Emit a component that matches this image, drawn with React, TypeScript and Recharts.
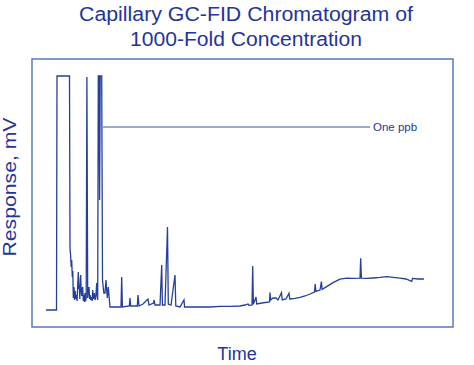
import React from 'react';
import { LineChart, Line, XAxis, YAxis, ReferenceArea, ReferenceLine, Customized } from 'recharts';

// retention time, min
const times = [
  1.4, 2.45, 2.5, 3.75, 3.8, 3.86, 3.92, 3.97, 4.03, 4.08, 4.13, 4.2, 4.26, 4.32, 4.38, 4.45, 4.51, 4.58, 4.63,
  4.68, 4.73, 4.78, 4.83, 4.87, 4.92, 4.97, 5.02, 5.07, 5.13, 5.2, 5.26, 5.3, 5.36, 5.42, 5.49, 5.57, 5.63, 5.7,
  5.76, 5.82, 5.87, 5.95, 6.02, 6.07, 6.13, 6.23, 6.3, 6.38, 6.47, 6.52, 6.57, 6.63, 6.7, 6.76, 6.82, 6.97,
  7.05, 7.18, 7.3, 7.4, 7.53, 7.63, 7.8, 8.3, 8.9,
  8.97, 9.04, 9.73, 9.8, 9.87, 10.53, 10.6, 10.7, 11.1, 11.6, 11.7, 12.15, 12.2, 12.3, 12.8, 12.97, 13.04, 13.3,
  13.55, 13.63, 13.9, 14.3, 14.38, 14.8, 15.2, 15.26, 15.8, 16.8, 17.8, 18.8, 19.8, 20.8, 21.3, 21.6, 21.68, 22.0,
  22.07, 22.14, 22.4, 22.47, 23.0, 23.75, 23.8, 23.87, 24.1, 24.4, 24.6, 24.95, 25.02, 25.4, 25.7, 25.77, 26.3,
  26.8, 27.3, 27.8, 28.25, 28.32, 28.39, 28.8, 28.94, 29.01, 29.47, 30.1, 30.8, 31.47, 32.1, 32.8, 32.87, 32.94,
  33.5, 34.1, 34.8, 35.47, 36.1, 36.8, 37.4, 37.97, 38.05, 38.6, 39.2,
];

// detector response, mV (solvent and first peaks run off scale)
const response = [
  8.5, 8.5, 125.5, 125.5, 39.5, 36, 30, 33.5, 25, 28, 14.5, 20, 13.5, 18, 14, 16, 13, 22, 27.5,
  19, 21, 14, 24, 26, 18, 15.5, 19, 20, 13, 16, 12.5, 17, 13, 14.5, 125, 14.5, 18, 20,
  14, 16, 13.5, 15, 13, 18.5, 14, 17, 13.5, 15, 22, 16, 13.5, 125.5, 125.5, 63.5, 125.5, 125.5,
  23.5, 17, 17, 23.5, 14.5, 20, 10, 10, 10,
  25, 10, 10.5, 14.5, 10.5, 10.5, 16, 10.5, 11.5, 14, 11, 12, 13.5, 11, 11, 31, 11, 11,
  50, 11.5, 11, 26, 10.5, 10, 13.5, 10, 10, 10, 10, 10.3, 10.3, 10.5, 11, 11.5, 10.8, 11,
  30.5, 11.3, 15, 11.5, 12, 12.5, 17.2, 13.5, 14.5, 14.5, 13.5, 17.2, 13.5, 14, 16.9, 14, 14.3,
  14.8, 15.5, 16.5, 17.5, 21.5, 17.8, 18.5, 22.7, 18.8, 20.2, 22.2, 23.9, 24.4, 24.3, 24.4, 34.4, 24.4,
  24.3, 24.5, 24.8, 25.2, 24.8, 24.4, 24, 22.8, 24.3, 24, 24,
];

const chartData = times.map((t, i) => ({ time: t, mV: response[i] }));

// one ppb marker
const ppbStart = 7.1;
const ppbEnd = 33.8;
const ppbLevel = 100;

const xMax = 42.1;
const yMax = 134;

const navy = '#24349a';
const font = 'Liberation Sans, Arial, sans-serif';

const Titles = () => (
  <g fontFamily={font} fill={navy}>
    <text x={246} y={21} fontSize={20} textAnchor="middle" textLength={334} lengthAdjust="spacingAndGlyphs">
      Capillary GC-FID Chromatogram of
    </text>
    <text x={246} y={46} fontSize={20} textAnchor="middle" textLength={232} lengthAdjust="spacingAndGlyphs">
      1000-Fold Concentration
    </text>
    <text x={237} y={360} fontSize={18} textAnchor="middle">
      Time
    </text>
    <text
      x={16}
      y={187}
      fontSize={18}
      textAnchor="middle"
      transform="rotate(-90 16 187)"
      textLength={139}
      lengthAdjust="spacingAndGlyphs"
    >
      Response, mV
    </text>
  </g>
);

const App: React.FC = () => {
  return (
    <div style={{ position: 'absolute', left: 0, top: 0, background: '#fff' }}>
      <LineChart width={474} height={365} data={chartData} margin={{ top: 59, right: 21, bottom: 38, left: 32 }}>
        <XAxis dataKey="time" type="number" domain={[0, xMax]} hide />
        <YAxis type="number" domain={[0, yMax]} hide />
        <ReferenceArea
          x1={0}
          x2={xMax}
          y1={0}
          y2={yMax}
          fill="none"
          fillOpacity={0}
          stroke="#5b78b6"
          strokeWidth={1.5}
          ifOverflow="visible"
        />
        <ReferenceLine
          segment={[{ x: ppbStart, y: ppbLevel }, { x: ppbEnd, y: ppbLevel }]}
          stroke="#3b56a6"
          strokeWidth={1}
          label={{ value: 'One ppb', position: 'right', offset: 3, fill: navy, fontSize: 11.5, fontFamily: font }}
        />
        <Line
          type="linear"
          dataKey="mV"
          stroke="#25409a"
          strokeWidth={1.3}
          dot={false}
          isAnimationActive={false}
        />
        <Customized component={Titles} />
      </LineChart>
    </div>
  );
};

export default App;
